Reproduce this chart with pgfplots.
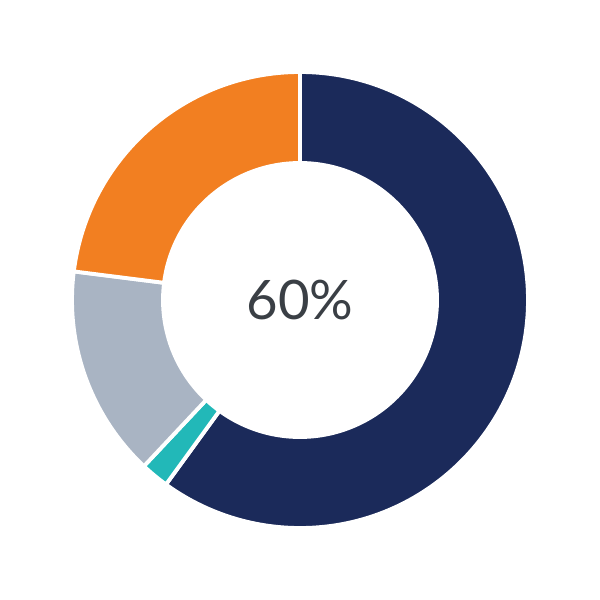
\documentclass[border=0pt]{standalone}
\usepackage{pgfplots}
\usepackage{pgfplotstable}
\pgfplotsset{compat=1.18}
\usepackage{fontspec}
\setmainfont{Lato}
\definecolor{navyc}{HTML}{1B2A5A}
\definecolor{tealc}{HTML}{22B8B8}
\definecolor{grayc}{HTML}{A9B4C3}
\definecolor{orangec}{HTML}{F27F21}
\definecolor{textc}{HTML}{3A3F45}
\pgfplotstableread{
value color
60 navyc
2 tealc
15 grayc
23 orangec
}\donutdata
\begin{document}
\begin{tikzpicture}
\begin{axis}[
  scale only axis, width=6cm, height=6cm,
  xmin=-300, xmax=300, ymin=-300, ymax=300,
  hide axis, clip=false]
\path (axis cs:-300,-300) rectangle (axis cs:300,300);
\pgfplotstablegetrowsof{\donutdata}
\pgfmathtruncatemacro\N{\pgfplotsretval-1}
\gdef\cum{0}
\pgfplotsforeachungrouped \i in {0,...,\N}{%
  \pgfplotstablegetelem{\i}{value}\of\donutdata \let\v\pgfplotsretval
  \pgfplotstablegetelem{\i}{color}\of\donutdata \let\c\pgfplotsretval
  \pgfmathsetmacro\aone{90-3.6*\cum}%
  \pgfmathsetmacro\atwo{90-3.6*(\cum+\v)}%
  \pgfmathsetmacro\cum{\cum+\v}%
  \edef\temp{\noexpand\fill[\c, draw=white, line width=1.1pt, line join=miter]
    (axis cs:{228*cos(\aone)},{228*sin(\aone)})
    arc[start angle=\aone, end angle=\atwo, radius=2.28cm]
    -- (axis cs:{137*cos(\atwo)},{137*sin(\atwo)})
    arc[start angle=\atwo, end angle=\aone, radius=1.37cm] -- cycle;}%
  \temp
}
\node[text=textc, font=\fontsize{15.5}{18}\selectfont] at (axis cs:0,0) {60\%};
\end{axis}
\end{tikzpicture}
\end{document}
